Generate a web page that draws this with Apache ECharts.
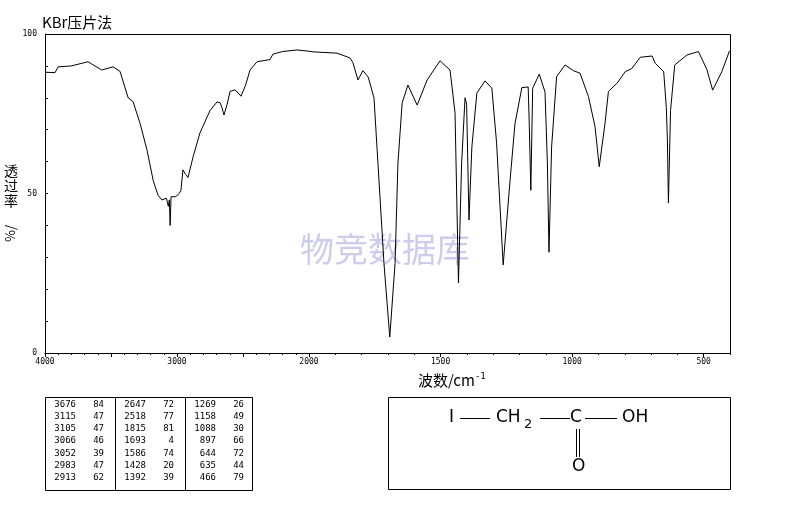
<!DOCTYPE html>
<html><head><meta charset="utf-8">
<script src="https://cdn.jsdelivr.net/npm/echarts@6/dist/echarts.min.js"></script>
<style>html,body{margin:0;padding:0;background:#fff}#c{width:794px;height:510px}</style>
</head><body><div id="c"></div>
<script>
// spectrum: wavenumber (cm-1) and transmittance (%)
const wnHigh = [4000,3924,3900,3800,3674,3570,3485,3432,3370,3333,3280,3227,3180,3144,3115,3080,3066,3058,3052,3045,3010,2983,2970,2955,2935,2917,2878,2826,2750,2697,2674,2660,2644,2620,2598,2560,2515,2480,2447,2394,2295,2273,2200,2091,2000];
const tHigh  = [88,87.9,89.7,90,91.3,88.7,89.7,88.3,80,78.8,72,63.6,54,49.5,48,48.5,46,48,40,49,49,50,51,57.4,56,55,61.5,69,76,78.7,78.5,77,74.6,78,82,82.5,80.5,84,88.7,91.3,92,93.7,94.5,95,94.6];
const wnLow = [2000,1985,1894,1844,1833,1814,1795,1775,1753,1738,1715,1693,1688,1673,1662,1646,1624,1589,1551,1502,1464,1445,1432,1420,1407,1401,1392,1381,1362,1331,1305,1287,1262,1236,1217,1191,1167,1163,1157,1150,1125,1103,1094,1088,1078,1059,1027,995,970,938,913,897,875,862,830,798,773,741,696,684,652,642,638,634,626,610,564,520,488,466,431,402];
const tLow  = [94.6,94.4,94,92.5,91,85.6,88.5,86.5,80,59.5,28,5,4.5,28,59.5,78.4,84,77.7,85.6,91.6,88.7,75.2,22,59.5,80,78,41.7,64.6,81.5,85.3,83,65.8,27.6,54,72,83.2,83.4,72,51,83,87.4,81.8,59.5,31.6,64.6,86.6,90.3,88.5,87.7,80.4,71,58.4,72,82,84.5,88.2,89.2,92.7,93.1,90.8,88.2,77,67,47,76,90.3,93.4,94.5,88.9,82.4,88.2,94.7];
// peak table
const peakCol1 = [["3676","84"],["3115","47"],["3105","47"],["3066","46"],["3052","39"],["2983","47"],["2913","62"]];
const peakCol2 = [["2647","72"],["2518","77"],["1815","81"],["1693","4"],["1586","74"],["1428","20"],["1392","39"]];
const peakCol3 = [["1269","26"],["1158","49"],["1088","30"],["897","66"],["644","72"],["635","44"],["466","79"]];
const ticksHighMajor = [2000,2500,3000,3500,4000];
const ticksLowMajor = [500,1000,1500,2000];
const yLabels = [0,50,100];

const range=(a,b,s)=>{const r=[];for(let v=a;v<=b;v+=s)r.push(v);return r;};
const mono='"DejaVu Sans Mono", monospace';
const cjk='"Noto Sans CJK SC", sans-serif';
const lab={fontFamily:mono,fontSize:8,color:'#000',margin:5,formatter:v=>String(v)};

const chart=echarts.init(document.getElementById('c'));
function xa(grid,min,max,major,minor,show){
  return [
   {type:'value',gridIndex:grid,min,max,inverse:true,position:'bottom',
    axisLine:{show:true,lineStyle:{color:'#000',width:1}},splitLine:{show:false},
    axisTick:{show:true,customValues:major,length:4,inside:false,lineStyle:{color:'#000'}},
    axisLabel:{show:true,customValues:show,...lab,showMinLabel:true,showMaxLabel:true}},
   {type:'value',gridIndex:grid,min,max,inverse:true,position:'bottom',
    axisLine:{show:false},splitLine:{show:false},
    axisTick:{show:true,customValues:minor,length:2,lineStyle:{color:'#000'}},
    axisLabel:{show:false}}
  ];
}
const xAxes=[...xa(0,2000,4000,ticksHighMajor,range(2000,4000,100),[2000,3000,4000]),
             ...xa(1,400,2000,ticksLowMajor,range(400,2000,100),[500,1000,1500])];
function cell(tx,x,y){return {type:'text',x:x,y:y,style:{text:tx,font:'9px '+mono,fill:'#000',align:'right',verticalAlign:'top'}};}
const g=[];
g.push({type:'text',x:42,y:15,style:{text:'KBr压片法',font:'15px '+cjk,fill:'#000'}});
['透','过','率'].forEach((c,i)=>g.push({type:'text',x:4,y:164+i*15,style:{text:c,font:'14px '+cjk,fill:'#000'}}));
g.push({type:'text',x:4,y:242,rotation:Math.PI/2,style:{text:'%/',font:'13px '+cjk,fill:'#000',verticalAlign:'top'}});
g.push({type:'text',x:300,y:232,style:{text:'物竞数据库',font:'34px '+cjk,fill:'rgba(170,170,225,0.6)'}});
g.push({type:'text',x:418,y:372,style:{text:'{a|波数/cm}{s|-1}',rich:{a:{font:'15px '+cjk,fill:'#000'},s:{font:'9px '+mono,verticalAlign:'top',padding:[0,0,8,0]}}}});
g.push({type:'rect',shape:{x:45.5,y:34.5,width:685,height:319},style:{fill:'none',stroke:'#000',lineWidth:1}});
// table
g.push({type:'rect',shape:{x:45.5,y:397.5,width:207,height:93},style:{fill:'none',stroke:'#000',lineWidth:1}});
g.push({type:'line',shape:{x1:115.5,y1:397,x2:115.5,y2:490},style:{stroke:'#000'}});
g.push({type:'line',shape:{x1:185.5,y1:397,x2:185.5,y2:490},style:{stroke:'#000'}});
[[peakCol1,52,100],[peakCol2,122,170],[peakCol3,192,240]].forEach(([col,x1,x2])=>{
  col.forEach((r,i)=>{const y=400+i*12.2;g.push(cell(r[0],x1+24,y));g.push(cell(r[1],x2+4,y));});
});
// structure
g.push({type:'rect',shape:{x:388.5,y:397.5,width:342,height:92},style:{fill:'none',stroke:'#000',lineWidth:1}});
const sf='17px "DejaVu Sans", sans-serif';
g.push({type:'text',x:449,y:409,style:{text:'I',font:sf,fill:'#000'}});
g.push({type:'text',x:496,y:409,style:{text:'CH',font:sf,fill:'#000'}});
g.push({type:'text',x:524,y:418,style:{text:'2',font:'13px "DejaVu Sans", sans-serif',fill:'#000'}});
g.push({type:'text',x:570,y:409,style:{text:'C',font:sf,fill:'#000'}});
g.push({type:'text',x:622,y:409,style:{text:'OH',font:sf,fill:'#000'}});
g.push({type:'text',x:572,y:458,style:{text:'O',font:sf,fill:'#000'}});
[[460,490],[540,570],[585,617]].forEach(([a,b])=>g.push({type:'line',shape:{x1:a,y1:418.5,x2:b,y2:418.5},style:{stroke:'#000'}}));
g.push({type:'line',shape:{x1:576.5,y1:429,x2:576.5,y2:457},style:{stroke:'#000'}});
g.push({type:'line',shape:{x1:579.5,y1:429,x2:579.5,y2:457},style:{stroke:'#000'}});

chart.setOption({
  animation:false,
  grid:[{left:45,top:34,width:264,height:319},
        {left:309,top:34,width:421,height:319}],
  xAxis:xAxes,
  yAxis:[{type:'value',gridIndex:0,min:0,max:100,interval:10,
          axisLine:{show:true,lineStyle:{color:'#000'}},splitLine:{show:false},
          axisTick:{show:true,inside:true,length:3,lineStyle:{color:'#000'}},
          axisLabel:{customValues:yLabels,...lab,margin:8}},
         {type:'value',gridIndex:1,min:0,max:100,show:false}],
  series:[
   {type:'line',xAxisIndex:0,yAxisIndex:0,data:wnHigh.map((w,i)=>[w,tHigh[i]]),showSymbol:false,lineStyle:{color:'#000',width:1},silent:true},
   {type:'line',xAxisIndex:2,yAxisIndex:1,data:wnLow.map((w,i)=>[w,tLow[i]]),showSymbol:false,lineStyle:{color:'#000',width:1},silent:true}
  ],
  graphic:g
});
</script></body></html>
